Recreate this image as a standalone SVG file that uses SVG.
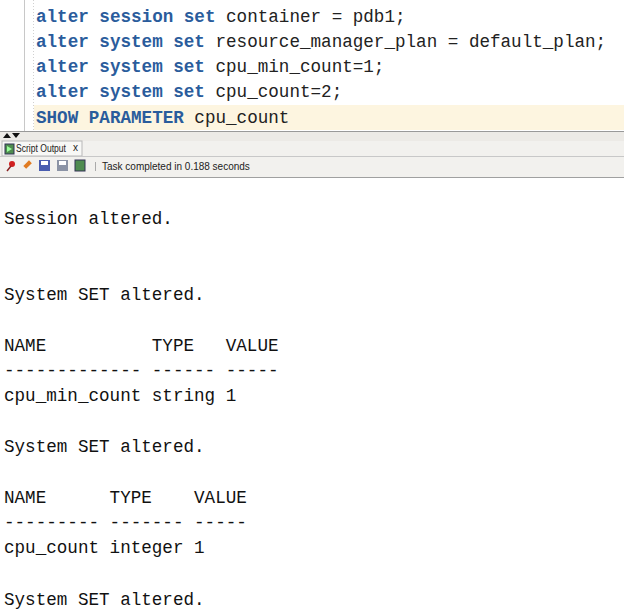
<svg xmlns="http://www.w3.org/2000/svg" width="624" height="615" viewBox="0 0 624 615">
<style>
.code{font-family:"Liberation Mono",monospace;font-size:17.6px;fill:#222}
.kw{font-weight:bold;fill:#2a5c9c}
.out{font-family:"Liberation Mono",monospace;font-size:17.6px;fill:#111;white-space:pre}
.ui{font-family:"Liberation Sans",Arial,sans-serif;font-size:10px;fill:#222}
</style>
<rect width="624" height="615" fill="#fff"/>
<g id="editor">
<rect x="0" y="0" width="24" height="132" fill="#fff"/>
<line x1="24.5" y1="0" x2="24.5" y2="132" stroke="#c8c8c8"/>
<line x1="33.5" y1="0" x2="33.5" y2="132" stroke="#d0d0d0" stroke-dasharray="1,2"/>
<rect x="34" y="105" width="590" height="25" fill="#fdf5e0"/>
<text class="code" x="36" y="22"><tspan class="kw">alter session set</tspan> container = pdb1;</text>
<text class="code" x="36" y="47"><tspan class="kw">alter system set</tspan> resource_manager_plan = default_plan;</text>
<text class="code" x="36" y="72"><tspan class="kw">alter system set</tspan> cpu_min_count=1;</text>
<text class="code" x="36" y="97"><tspan class="kw">alter system set</tspan> cpu_count=2;</text>
<text class="code" x="36" y="123"><tspan class="kw">SHOW PARAMETER</tspan> cpu_count</text>
</g>
<g id="panel">
<rect x="0" y="131" width="624" height="10" fill="#eceae6"/>
<line x1="0" y1="131.5" x2="624" y2="131.5" stroke="#999"/>
<polygon points="3,138 7,133 11,138" fill="#111"/>
<polygon points="12,133 20,133 16,138" fill="#111"/>
<rect x="0" y="141" width="624" height="36" fill="#f2f1ee"/>
<rect x="2" y="141" width="80" height="15" fill="#f8f8f6" stroke="#b8b8b8"/>
<rect x="5" y="144" width="9" height="10" fill="#4f8c4f" stroke="#335"/>
<polygon points="7,146 12,149 7,152" fill="#9f9"/>
<text class="ui" x="16" y="152" font-size="8.5" textLength="50" lengthAdjust="spacingAndGlyphs">Script Output</text>
<text class="ui" x="73" y="151" font-size="8" fill="#666">x</text>
<line x1="0" y1="156.5" x2="624" y2="156.5" stroke="#c8c8c8"/>
<circle cx="12" cy="164" r="3" fill="#d02020"/><line x1="11" y1="166" x2="7" y2="171" stroke="#822" stroke-width="1.5"/>
<rect x="25" y="162" width="8" height="4" fill="#e07b22" transform="rotate(-45 29 166)"/>
<rect x="39" y="160" width="11" height="11" fill="#4a5db0"/><rect x="41" y="161" width="7" height="4" fill="#fff"/>
<rect x="57" y="160" width="11" height="11" fill="#8b93a5"/><rect x="59" y="161" width="7" height="4" fill="#fff"/>
<rect x="75" y="160" width="10" height="11" fill="#4f8c4f" stroke="#335"/>
<line x1="95.5" y1="162" x2="95.5" y2="171" stroke="#aaa"/>
<text class="ui" x="102" y="170" font-size="9">Task completed in 0.188 seconds</text>
<line x1="0" y1="177.5" x2="624" y2="177.5" stroke="#a0a0a0"/>
</g>
<g id="output">
<text class="out" x="4" y="224">Session altered.</text>
<text class="out" x="4" y="300">System SET altered.</text>
<text class="out" x="4" y="351">NAME          TYPE   VALUE</text>
<text class="out" x="4" y="376">------------- ------ -----</text>
<text class="out" x="4" y="401">cpu_min_count string 1</text>
<text class="out" x="4" y="452">System SET altered.</text>
<text class="out" x="4" y="503">NAME      TYPE    VALUE</text>
<text class="out" x="4" y="528">--------- ------- -----</text>
<text class="out" x="4" y="553">cpu_count integer 1</text>
<text class="out" x="4" y="605">System SET altered.</text>
</g>
</svg>
